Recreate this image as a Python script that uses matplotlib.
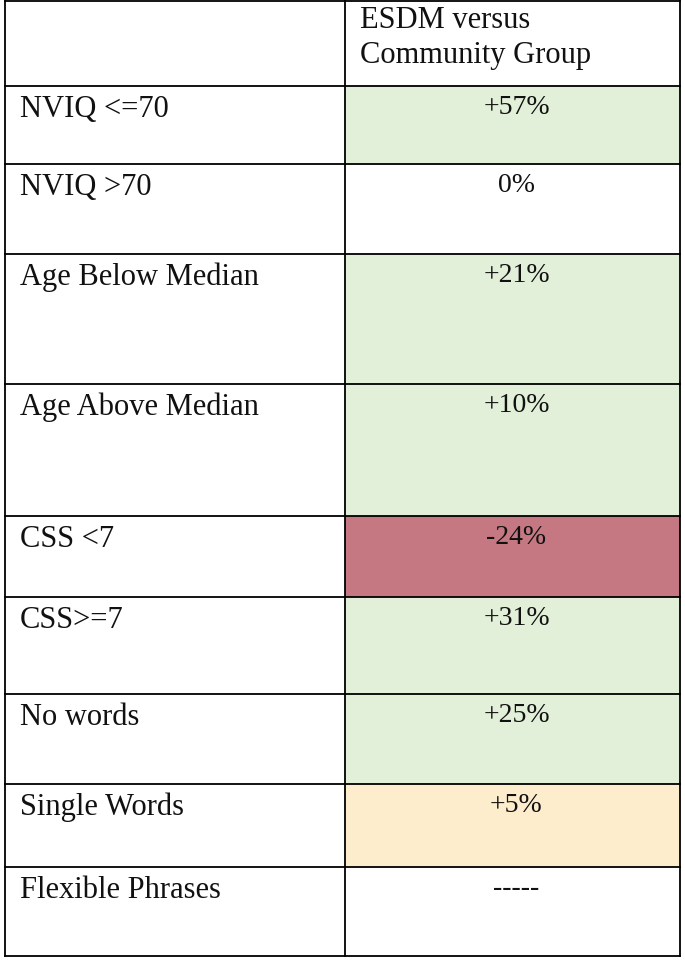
import matplotlib.pyplot as plt
from matplotlib.patches import Rectangle

header = ["ESDM versus", "Community Group"]
categories = ["NVIQ <=70", "NVIQ >70", "Age Below Median", "Age Above Median",
              "CSS <7", "CSS>=7", "No words", "Single Words", "Flexible Phrases"]
values = ["+57%", "0%", "+21%", "+10%", "-24%", "+31%", "+25%", "+5%", "-----"]
fills = ["#e2efd9", "#ffffff", "#e2efd9", "#e2efd9", "#c57882", "#e2efd9",
         "#e2efd9", "#fdedcd", "#ffffff"]
row_edges = [2, 87, 165, 255, 385, 517, 598, 695, 785, 868, 957]

W, H = 685, 962
fig = plt.figure(figsize=(W/100, H/100), dpi=100)
ax = fig.add_axes([0, 0, 1, 1])
ax.set_xlim(0, W); ax.set_ylim(H, 0); ax.axis("off")
xl, xm, xr = 5, 345, 680
base = dict(family="Liberation Serif", color="#111111")

for i in range(len(categories)):
    y0, y1 = row_edges[i+1], row_edges[i+2]
    ax.add_patch(Rectangle((xm, y0), xr-xm, y1-y0, facecolor=fills[i], edgecolor="none"))
    ax.text(20, y0 + 8, categories[i], va="top", ha="left", fontsize=22, **base)
    ax.text((xm+xr)/2 + 4, y0 + 8, values[i], va="top", ha="center", fontsize=20, **base)

ax.text(360, 6, "\n".join(header), va="top", ha="left", linespacing=1.25, fontsize=22, **base)

for y in row_edges:
    ax.plot([xl, xr], [y, y], color="black", lw=1.3)
for x in (xl, xm, xr):
    ax.plot([x, x], [row_edges[0], row_edges[-1]], color="black", lw=1.3)

fig.savefig("out.png", dpi=100)
